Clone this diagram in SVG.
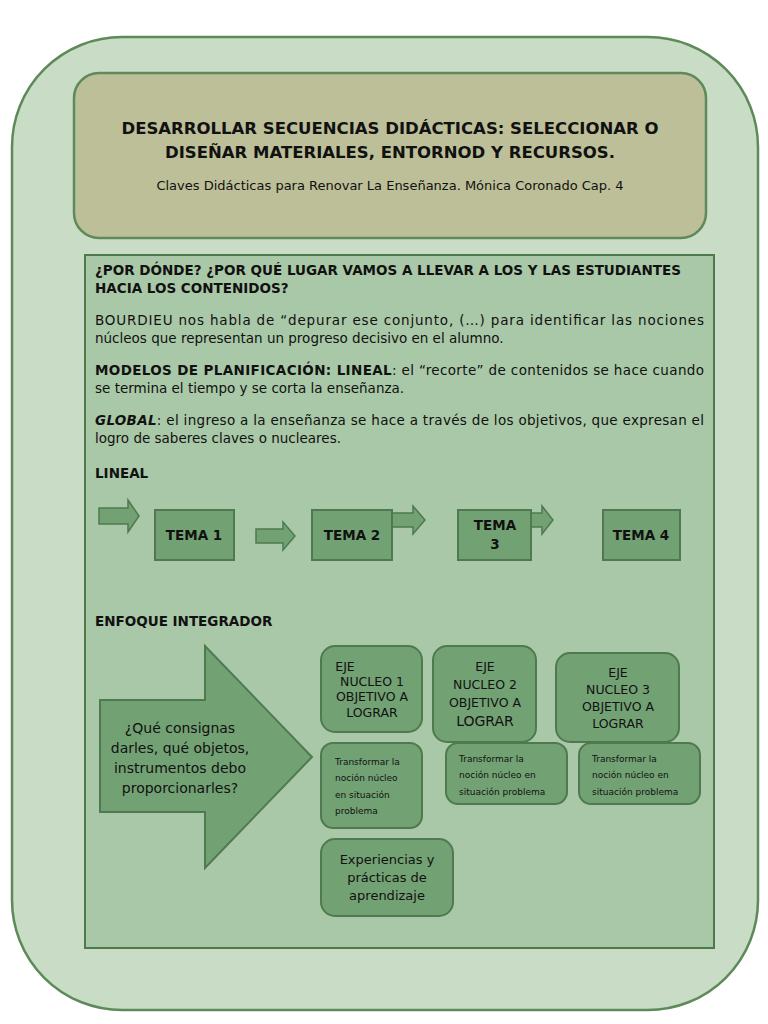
<svg xmlns="http://www.w3.org/2000/svg" width="768" height="1024" viewBox="0 0 768 1024">
<style>
text{font-family:"DejaVu Sans","Liberation Sans",sans-serif;fill:#111}
.t{font-size:13.5px}
.b{font-weight:bold}
.box{fill:#72a173;stroke:#4f7a4f;stroke-width:2}
.arr{fill:#72a173;stroke:#4f7a4f;stroke-width:1.5}
.c{text-anchor:middle}
</style>
<rect width="768" height="1024" fill="#fff"/>
<rect x="12" y="37" width="746" height="973" rx="110" fill="#c9dcc6" stroke="#5e8a5a" stroke-width="2.5"/>
<g id="header">
<rect x="74" y="73" width="632" height="165" rx="25" fill="#bcbf97" stroke="#5e8a5a" stroke-width="2.5"/>
<text x="390" y="134" class="c b" font-size="16.5">DESARROLLAR SECUENCIAS DIDÁCTICAS: SELECCIONAR O</text>
<text x="390" y="158" class="c b" font-size="16.5">DISEÑAR MATERIALES, ENTORNOD Y RECURSOS.</text>
<text x="390" y="190" class="c" font-size="13">Claves Didácticas para Renovar La Enseñanza. Mónica Coronado Cap. 4</text>
</g>
<g id="panel">
<rect x="85" y="255" width="629" height="693" fill="#a9c8a7" stroke="#4e7a4a" stroke-width="2"/>
<text x="95" y="275" class="t b">¿POR DÓNDE? ¿POR QUÉ LUGAR VAMOS A LLEVAR A LOS Y LAS ESTUDIANTES</text>
<text x="95" y="293" class="t b">HACIA LOS CONTENIDOS?</text>
<text x="95" y="325" class="t" textLength="609" lengthAdjust="spacing">BOURDIEU nos habla de “depurar ese conjunto, (…) para identificar las nociones</text>
<text x="95" y="343" class="t">núcleos que representan un progreso decisivo en el alumno.</text>
<text x="95" y="375" class="t" textLength="609" lengthAdjust="spacing"><tspan class="b">MODELOS DE PLANIFICACIÓN: LINEAL</tspan>: el “recorte” de contenidos se hace cuando</text>
<text x="95" y="393" class="t">se termina el tiempo y se corta la enseñanza.</text>
<text x="95" y="425" class="t" textLength="609" lengthAdjust="spacing"><tspan class="b" font-style="italic">GLOBAL</tspan>: el ingreso a la enseñanza se hace a través de los objetivos, que expresan el</text>
<text x="95" y="443" class="t">logro de saberes  claves o nucleares.</text>
<text x="95" y="478" class="t b">LINEAL</text>
<text x="95" y="626" class="t b">ENFOQUE INTEGRADOR</text>
</g>
<g id="connectors">
<polygon class="arr" points="99,508 128,508 128,500 139,516 128,532 128,524 99,524"/>
<polygon class="arr" points="256,529 283,529 283,522 295,536 283,550 283,543 256,543"/>
<polygon class="arr" points="392,513 413,513 413,506 425,520 413,534 413,527 392,527"/>
<polygon class="arr" points="531,513 542,513 542,506 553,520 542,534 542,527 531,527"/>
</g>
<g id="tema1"><rect class="box" x="155" y="510" width="79" height="50"/><text x="194" y="540" class="t b c">TEMA 1</text></g>
<g id="tema2"><rect class="box" x="312" y="510" width="80" height="50"/><text x="352" y="540" class="t b c">TEMA 2</text></g>
<g id="tema3"><rect class="box" x="458" y="510" width="73" height="50"/><text x="495" y="530" class="t b c">TEMA</text><text x="495" y="549" class="t b c">3</text></g>
<g id="tema4"><rect class="box" x="603" y="510" width="77" height="50"/><text x="641" y="540" class="t b c">TEMA 4</text></g>
<g id="bigarrow">
<polygon class="box" points="100,700 205,700 205,646 312,757 205,868 205,812 100,812"/>
<text class="c" font-size="14"><tspan x="180" y="733">¿Qué consignas</tspan><tspan x="180" y="753">darles, qué objetos,</tspan><tspan x="180" y="773">instrumentos debo</tspan><tspan x="180" y="793">proporcionarles?</tspan></text>
</g>
<g id="eje1"><rect class="box" x="321" y="646" width="101" height="86" rx="14"/>
<text font-size="12.5" class="c"><tspan x="345" y="671">EJE</tspan><tspan x="372" y="686">NUCLEO 1</tspan><tspan x="372" y="701">OBJETIVO A</tspan><tspan x="372" y="717">LOGRAR</tspan></text></g>
<g id="eje2"><rect class="box" x="433" y="646" width="103" height="96" rx="14"/>
<text class="c"><tspan x="485" y="671" font-size="12.5">EJE</tspan><tspan x="485" y="689" font-size="12.5">NUCLEO 2</tspan><tspan x="485" y="707" font-size="12.5">OBJETIVO A</tspan><tspan x="485" y="726" font-size="14">LOGRAR</tspan></text></g>
<g id="eje3"><rect class="box" x="556" y="653" width="123" height="89" rx="14"/>
<text font-size="12.5" class="c"><tspan x="618" y="677">EJE</tspan><tspan x="618" y="694">NUCLEO 3</tspan><tspan x="618" y="711">OBJETIVO A</tspan><tspan x="618" y="728">LOGRAR</tspan></text></g>
<g id="trans1"><rect class="box" x="321" y="743" width="101" height="85" rx="12"/>
<text font-size="9"><tspan x="335" y="765">Transformar la</tspan><tspan x="335" y="781">noción núcleo</tspan><tspan x="335" y="798">en situación</tspan><tspan x="335" y="814">problema</tspan></text></g>
<g id="trans2"><rect class="box" x="446" y="743" width="121" height="61" rx="12"/>
<text font-size="9"><tspan x="459" y="762">Transformar la</tspan><tspan x="459" y="778">noción núcleo en</tspan><tspan x="459" y="795">situación problema</tspan></text></g>
<g id="trans3"><rect class="box" x="579" y="743" width="121" height="61" rx="12"/>
<text font-size="9"><tspan x="592" y="762">Transformar la</tspan><tspan x="592" y="778">noción núcleo en</tspan><tspan x="592" y="795">situación problema</tspan></text></g>
<g id="exp"><rect class="box" x="321" y="839" width="132" height="77" rx="14"/>
<text font-size="13" class="c"><tspan x="387" y="864">Experiencias y</tspan><tspan x="387" y="882">prácticas de</tspan><tspan x="387" y="900">aprendizaje</tspan></text></g>
</svg>
